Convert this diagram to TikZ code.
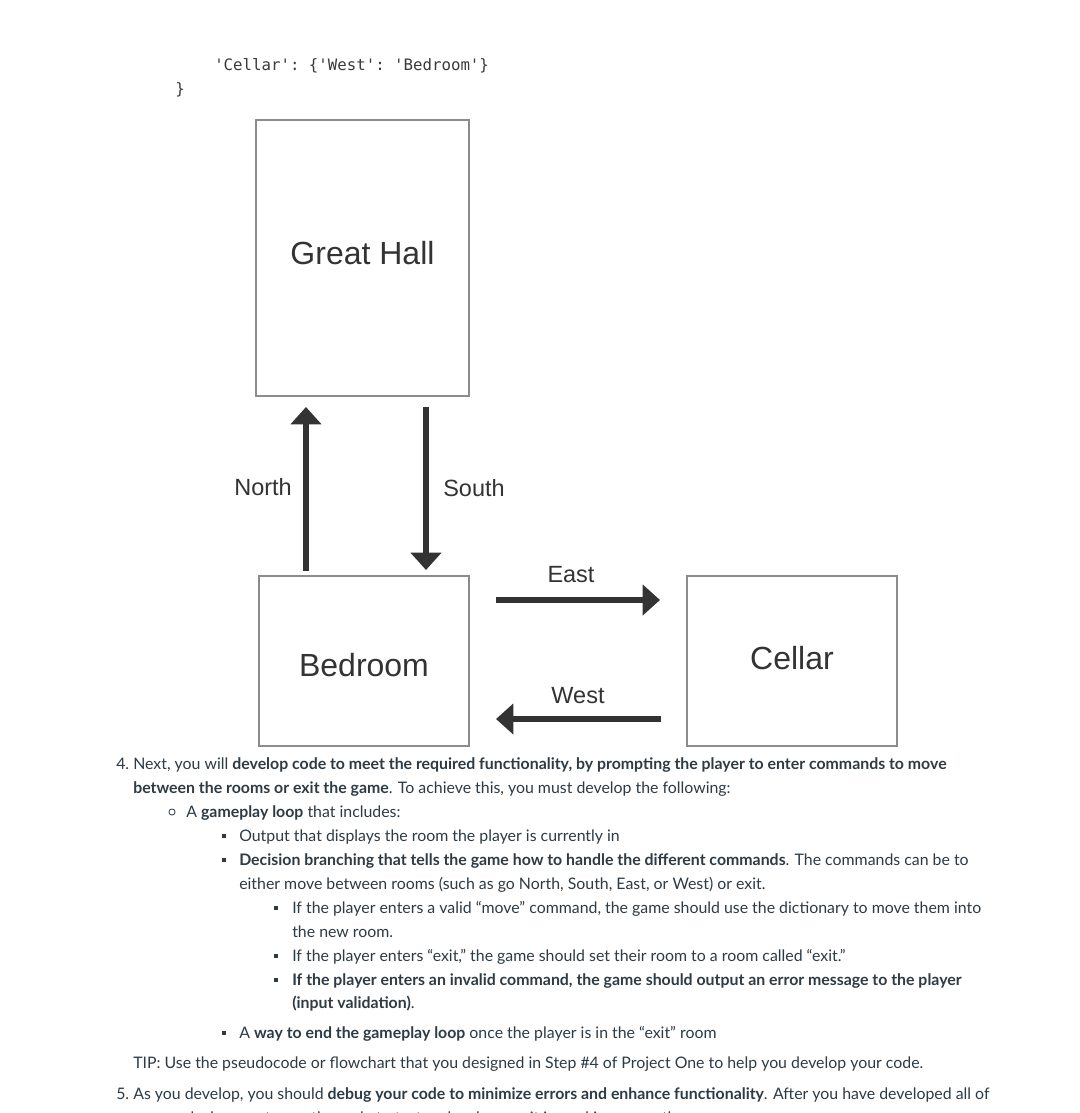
\documentclass[tikz,border=0pt]{standalone}
\usepackage{fontspec}
\setmainfont{Lato}
\setmonofont{DejaVu Sans Mono}
\newfontfamily\roomfont{Liberation Sans}
\usetikzlibrary{arrows.meta}
\definecolor{inkgray}{HTML}{333333}
\definecolor{boxgray}{HTML}{8C8C8C}
\definecolor{bodytext}{HTML}{2D3B45}
\definecolor{codetext}{HTML}{3A3A3A}

\begin{document}
\begin{tikzpicture}[x=0.75pt,y=-0.75pt]
	\tikzstyle{room}=[rectangle,draw=boxgray,line width=1.1pt,inner sep=0pt,outer sep=0pt,text=inkgray,font=\roomfont\fontsize{24}{28}\selectfont]
	\tikzstyle{dirlabel}=[text=inkgray,font=\roomfont\fontsize{17.6}{20}\selectfont]
	\tikzstyle{edge}=[draw=inkgray,line width=5.2pt,-{Triangle[width=22.5pt,length=13pt]}]
	\tikzstyle{code}=[anchor=base west,inner sep=0pt,text=codetext,font=\ttfamily\fontsize{11.8}{14}\selectfont]
	\tikzstyle{para}=[anchor=base west,inner sep=0pt,text=bodytext,font=\fontsize{11.9}{14.4}\selectfont]
	\tikzstyle{sqbullet}=[rectangle,fill=bodytext,minimum size=3.6pt,inner sep=0pt]
	\tikzstyle{circbullet}=[circle,draw=bodytext,line width=0.6pt,minimum size=4.6pt,inner sep=0pt]
	\useasboundingbox (0,0) rectangle (1080,1113);
	\clip (0,0) rectangle (1080,1113);
	\fill[white] (0,0) rectangle (1080,1113);

	\node [code] (c1) at (214,70) {'Cellar': \{'West': 'Bedroom'\}};
	\node [code] (c2) at (175,94) {\}};

	\begin{scope}
		\node [room,minimum width=159.75pt,minimum height=207pt,text height=17pt,text depth=7.5pt] (hall) at (362.5,258) {Great Hall};
		\node [room,minimum width=157.5pt,minimum height=127.5pt,text height=23pt,text depth=0pt] (bedroom) at (364,661) {Bedroom};
		\node [room,minimum width=157.5pt,minimum height=127.5pt,text height=17pt,text depth=4.5pt] (cellar) at (792,661) {Cellar};

		\node [dirlabel] (north) at (263,487) {North};
		\node [dirlabel] (south) at (474,488) {South};
		\node [dirlabel] (east) at (571,575) {East};
		\node [dirlabel] (west) at (578,696) {West};

		\path[edge] ([shift={(47,-5)}]bedroom.north west) -- ([shift={(50,11)}]hall.south west);
		\path[edge] ([shift={(170,11)}]hall.south west) -- ([shift={(167,-6)}]bedroom.north west);
		\path[edge] ([shift={(27,24)}]bedroom.north east) -- ([shift={(-27,24)}]cellar.north west);
		\path[edge] ([shift={(-26,143)}]cellar.north west) -- ([shift={(27,143)}]bedroom.north east);
	\end{scope}

	\node [para] (n4) at (116,769) {4.};
	\node [para] (t1) at (133,769) {Next, you will \textbf{develop code to meet the required functionality, by prompting the player to enter commands to move}};
	\node [para] (t2) at (133,793) {\textbf{between the rooms or exit the game}. To achieve this, you must develop the following:};
	\node [circbullet] (b3) at (172,812) {};
	\node [para] (t3) at (186,817) {A \textbf{gameplay loop} that includes:};
	\node [sqbullet] (b4) at (224,836) {};
	\node [para] (t4) at (239,841) {Output that displays the room the player is currently in};
	\node [sqbullet] (b5) at (224,860) {};
	\node [para] (t5) at (239,865) {\textbf{Decision branching that tells the game how to handle the different commands}. The commands can be to};
	\node [para] (t6) at (239,889) {either move between rooms (such as go North, South, East, or West) or exit.};
	\node [sqbullet] (b7) at (276,908) {};
	\node [para] (t7) at (292,913) {If the player enters a valid “move” command, the game should use the dictionary to move them into};
	\node [para] (t8) at (292,937) {the new room.};
	\node [sqbullet] (b9) at (276,956) {};
	\node [para] (t9) at (292,961) {If the player enters “exit,” the game should set their room to a room called “exit.”};
	\node [sqbullet] (b10) at (276,980) {};
	\node [para] (t10) at (292,985) {\textbf{If the player enters an invalid command, the game should output an error message to the player}};
	\node [para] (t11) at (292,1008) {\textbf{(input validation)}.};
	\node [sqbullet] (b12) at (224,1033) {};
	\node [para] (t12) at (239,1038) {A \textbf{way to end the gameplay loop} once the player is in the “exit” room};
	\node [para] (t13) at (133,1068) {TIP: Use the pseudocode or flowchart that you designed in Step \#4 of Project One to help you develop your code.};
	\node [para] (n5) at (116,1099) {5.};
	\node [para] (t14) at (133,1099) {As you develop, you should \textbf{debug your code to minimize errors and enhance functionality}. After you have developed all of};
	\node [para] (t15) at (133,1123) {your code, be sure to run the code to test and make sure it is working correctly.};
\end{tikzpicture}
\end{document}
